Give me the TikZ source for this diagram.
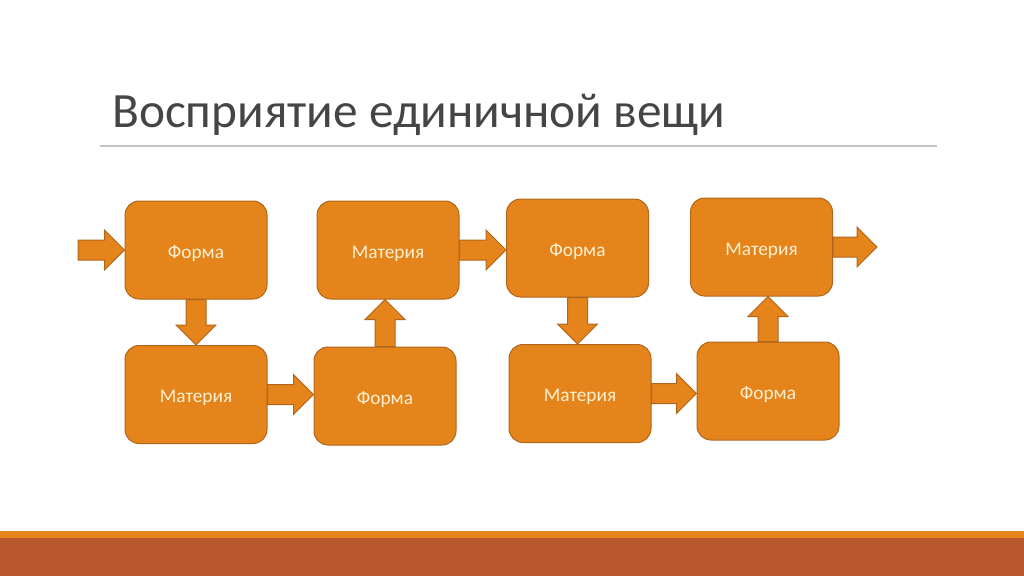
\documentclass[tikz,border=0pt]{standalone}
\usepackage{fontspec}
\setmainfont{Carlito}
\usepackage{xcolor}
\usetikzlibrary{calc}
\definecolor{Slide}{HTML}{FFFFFF}
\definecolor{Ink}{HTML}{454545}
\definecolor{Rule}{HTML}{C4C4C4}
\definecolor{Amber}{HTML}{E4841A}
\definecolor{AmberLine}{HTML}{B0661C}
\definecolor{Cream}{HTML}{FFF0D2}
\definecolor{Band}{HTML}{E5871E}
\definecolor{Rust}{HTML}{B9582C}
\newcommand{\blkarrow}[2]{%
  \coordinate (tail) at (#1);
  \coordinate (tip) at (#2);
  \coordinate (neck) at ($(tip)!15pt!(tail)$);
  \draw[blk] ($(tail)!7.5pt!90:(tip)$) -- ($(neck)!7.5pt!90:(tip)$) -- ($(neck)!15pt!90:(tip)$) -- (tip)
    -- ($(neck)!15pt!-90:(tip)$) -- ($(neck)!7.5pt!-90:(tip)$) -- ($(tail)!7.5pt!-90:(tip)$) -- cycle;}
\tikzset{
  box/.style={draw=AmberLine,fill=Amber,rounded corners=10.5pt,minimum width=106.5pt,minimum height=73.5pt,align=center,font=\fontsize{14.5}{17}\selectfont,text=Cream,text height=15pt,text depth=3pt,line width=0.75pt},
  blk/.style={draw=AmberLine,fill=Amber,line width=0.75pt,line join=miter},
  title/.style={anchor=base west,inner sep=0pt,font=\fontsize{37}{44}\selectfont,text=Ink}
}

\begin{document}
\begin{tikzpicture}[x=0.75pt,y=-0.75pt]
  \useasboundingbox (0,0) rectangle (1024,576);
  \fill[Slide] (0,0) rectangle (1024,576);
  % title and rule
  \node[title] (head) at (112,127) {Восприятие единичной вещи};
  \draw[Rule,line width=1pt] (100,146) -- (937,146);
  % top row
  \node[box] (f1) at (196,250) {Форма};
  \node[box] (m1) at (388,250) {Материя};
  \node[box] (f2) at (577.5,248) {Форма};
  \node[box] (m2) at (761.5,247) {Материя};
  % bottom row
  \node[box] (m3) at (196,394.5) {Материя};
  \node[box] (f3) at (385,396) {Форма};
  \node[box] (m4) at (580,393.5) {Материя};
  \node[box] (f4) at (768,391) {Форма};
  % block arrows
  \coordinate (in) at (78,250);
  \coordinate (out) at (877,247);
  \blkarrow{in}{f1.west}
  \blkarrow{f1.south}{m3.north}
  \blkarrow{m3.east}{f3.west |- m3.east}
  \blkarrow{f3.north}{f3.north |- m1.south}
  \blkarrow{m1.east}{f2.west |- m1.east}
  \blkarrow{f2.south}{f2.south |- m4.north}
  \blkarrow{m4.east}{f4.west |- m4.east}
  \blkarrow{f4.north}{f4.north |- m2.south}
  \blkarrow{m2.east}{out}
  % footer band
  \fill[Band] (0,531) rectangle (1024,538);
  \fill[Rust] (0,538) rectangle (1024,576);
\end{tikzpicture}
\end{document}
